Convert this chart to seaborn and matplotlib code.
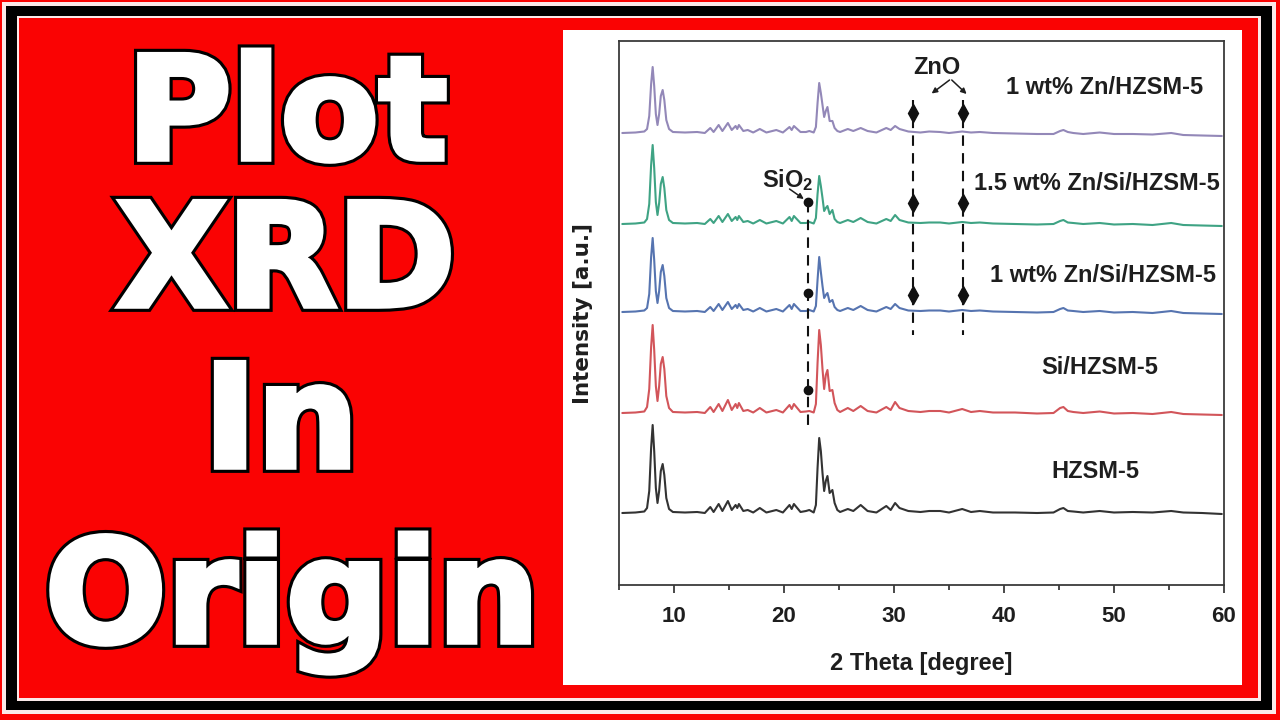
import numpy as np
import pandas as pd
import matplotlib
matplotlib.use("Agg")
import matplotlib.pyplot as plt
import matplotlib.patheffects as pe
from matplotlib.patches import Rectangle
import seaborn as sns

# ---------------- data ----------------
two_theta = [5.3, 6.5, 7.3, 7.55, 7.75, 7.92, 8.06, 8.2, 8.35, 8.5,
             8.65, 8.8, 8.97, 9.12, 9.3, 9.55, 9.9,
             11.0, 12.1, 12.8, 13.3, 13.6, 14.06, 14.4, 14.9, 15.25, 15.6,
             15.75, 15.9, 16.3, 16.7, 17.2, 17.8, 18.4, 19.3, 19.9, 20.5,
             20.7, 20.9, 21.5, 22.0, 22.3,
             22.7, 22.9, 23.05, 23.2, 23.35, 23.5, 23.65, 23.8, 23.95, 24.15,
             24.4, 24.6, 24.85, 25.1,
             25.8, 26.3, 26.97, 27.6, 28.4, 29.3, 29.7, 30.1, 30.5, 31.3,
             32.4, 33.2, 34.2, 35.0, 36.2, 37.0, 37.8, 39.0, 41.0, 43.0,
             44.5, 45.1, 45.4, 45.8, 46.3, 47.2, 48.7, 50.0, 51.7, 53.5,
             55.2, 56.3, 58.0, 59.8]

hzsm5 = [0, 0.5, 1.5, 5, 22, 65, 88, 62, 25, 10, 22, 42, 49, 38, 15, 4, 1,
         0.5, 1, 0, 6, 1, 9, 2, 12, 3, 8, 5, 9, 2, 3, 0.5, 5, 0.5, 3, 0.5, 8,
         4, 9, 1, 2, 3,
         0.5, 8, 45, 75, 62, 40, 22, 32, 37, 20, 23, 10, 3, 1,
         4, 2, 8, 2, 0.5, 7, 3, 10, 5, 2, 1, 2, 2, 0.5, 4, 1, 2, 0.5, 0.5, 0,
         0.5, 4, 5, 2, 1.5, 0.5, 2, 0.5, 1, 0.5, 2, 0.5, 0, -1]

si_hzsm5 = [0, 0.5, 1.5, 6, 24, 66, 88, 63, 27, 12, 27, 49, 56, 44, 17, 5, 1,
            0.5, 1, 0, 6, 1, 9, 2, 13, 3, 9, 5, 10, 2, 3, 0.5, 5, 0.5, 3, 0.5,
            8, 4, 9, 1, 1.5, 2,
            0.5, 9, 50, 83, 68, 44, 24, 38, 43, 22, 23, 10, 3, 1,
            5, 2, 7, 2, 0.5, 6, 3, 11, 5, 2, 1, 2, 2, 0.5, 4, 1, 2, 0.5, 0.5,
            -0.5, 0, 5, 6, 2, 1, 0, 1.5, -0.5, 0, -1, 1, -1, -1.5, -2]

zn1_si_hzsm5 = [0, 0.5, 1.5, 4, 18, 55, 74, 52, 21, 9, 21, 40, 47, 36, 14, 4, 1,
                0.5, 1, 0, 5, 1, 8, 2, 10, 3, 7, 4, 8, 2, 3, 0.5, 4, 0.5, 3,
                0.5, 7, 3, 8, 1, 1, 2,
                0.5, 6, 32, 55, 40, 26, 14, 17, 19, 10, 12, 5, 2, 1,
                4, 2, 6, 2, 0.5, 5, 3, 8, 4, 1.5, 1, 1.5, 1.5, 0.5, 2, 1, 1.5,
                0.5, 0, -0.5, 0, 3, 4, 1.5, 1, 0, 1, -0.5, 0, -1, 1, -1, -1.5,
                -2]

zn15_si_hzsm5 = [0, 0.5, 1.5, 5, 20, 59, 79, 56, 22, 9, 21, 40, 47, 36, 14, 4,
                 1,
                 0.5, 1, 0, 5, 1, 8, 2, 10, 3, 7, 4, 8, 2, 3, 0.5, 4, 0.5, 3,
                 0.5, 7, 3, 8, 1, 1, 2,
                 0.5, 6, 30, 48, 38, 26, 13, 16, 18, 10, 14, 5, 2, 1,
                 4, 2, 6, 2, 0.5, 5, 3, 9, 4, 1.5, 1, 1.5, 1.5, 0.5, 2, 1, 1.5,
                 0.5, 0, -0.5, 0, 3, 4, 1.5, 1, 0, 1, -0.5, 0, -1, 1, -1, -1.5,
                 -2]

zn1_hzsm5 = [0, 0.5, 1.5, 4, 17, 49, 66, 47, 19, 8, 19, 37, 43, 33, 13, 4, 1,
             0.5, 1, 0, 5, 1, 8, 2, 10, 3, 7, 4, 8, 2, 3, 0.5, 4, 0.5, 3, 0.5,
             6, 3, 7, 1, 1, 2,
             0.5, 6, 30, 50, 40, 28, 16, 22, 26, 12, 12, 5, 2, 1,
             4, 2, 5, 2, 0.5, 5, 3, 7, 4, 1.5, 0.5, 1.5, 1, 0, 1.5, 0.5, 1, 0,
             -0.5, -1, -1, 2, 3, 1, 0, -1, 0.5, -1, -1, -1.5, 0, -2, -2.5, -3]

series_names = ["HZSM-5", "Si/HZSM-5", "1 wt% Zn/Si/HZSM-5",
                "1.5 wt% Zn/Si/HZSM-5", "1 wt% Zn/HZSM-5"]
series_values = [hzsm5, si_hzsm5, zn1_si_hzsm5, zn15_si_hzsm5, zn1_hzsm5]

zno_peaks = [31.7, 36.3]          # ZnO reflections (degree)
sio2_peak = 22.2                  # SiO2 reflection (degree)

x_ticks = [10, 20, 30, 40, 50, 60]
title_words = ["Plot", "XRD", "In", "Origin"]

# ---------------- styling / layout ----------------
series_colors = ["#333333", "#d2555a", "#5674b0", "#3fa384", "#9388b8"]
offsets = [72, 172, 273, 361, 452]            # stacking offsets
label_pos = [(48.3, 113), (48.7, 217), (49.0, 310), (48.4, 402), (49.1, 497)]
zno_marker_y = [472, 382, 290]                 # purple, green, blue traces
sio2_marker_y = [383, 292, 195]                # green, blue, red traces

sns.set_theme(style="ticks")
plt.rcParams["font.family"] = ["Liberation Sans", "DejaVu Sans"]
plt.rcParams["font.weight"] = "bold"
plt.rcParams["mathtext.fontset"] = "custom"
plt.rcParams["mathtext.rm"] = "Liberation Sans:bold"
plt.rcParams["mathtext.default"] = "rm"

W, H = 1280, 720
RED = "#fa0303"
fig = plt.figure(figsize=(W / 100, H / 100), dpi=100)
fig.patch.set_facecolor(RED)


def prect(l, t, r, b, color, z):
    fig.add_artist(Rectangle((l / W, 1 - b / H), (r - l) / W, (b - t) / H,
                             transform=fig.transFigure, facecolor=color,
                             edgecolor="none", zorder=z))


prect(2, 2, 1276, 714, "#fbe9e9", -20)
prect(6, 6, 1272, 710, "black", -19)
prect(17, 16, 1261, 701, "#fbe9e9", -18)
prect(19, 18, 1258, 698, RED, -17)
prect(563, 30, 1242, 685, "white", -16)

# big title words (extra white stroke to mimic a heavier face)
word_pos = [(287, 159), (286, 306), (281, 467), (292, 642)]
title_fx = [pe.Stroke(linewidth=8.5, foreground="black", joinstyle="miter"),
            pe.Stroke(linewidth=4, foreground="white", joinstyle="miter"),
            pe.Normal()]
for word, (px, py) in zip(title_words, word_pos):
    fig.text(px / W, 1 - py / H, word, fontsize=103, fontweight="bold",
             family="DejaVu Sans", color="white", ha="center", va="baseline",
             path_effects=title_fx)

# ---------------- chart ----------------
ax = fig.add_axes([619 / W, (H - 585) / H, 605 / W, 544 / H])
ax.set_facecolor("white")

for name, vals, off, col in zip(series_names, series_values, offsets, series_colors):
    df = pd.DataFrame({"two_theta": two_theta,
                       "intensity": np.asarray(vals, dtype=float) + off})
    sns.lineplot(data=df, x="two_theta", y="intensity", ax=ax, color=col,
                 linewidth=1.5, estimator=None, sort=False, legend=False)

for name, (lx, ly) in zip(series_names, label_pos):
    ax.text(lx, ly, name, ha="center", va="center", fontsize=17,
            fontweight="bold", color="#1e1e1e")

# dashed reference lines and markers
dash_kw = dict(color="#111111", lw=1.5, dashes=(5, 3.5), zorder=3)
for xp in zno_peaks:
    ax.plot([xp, xp], [485, 250], **dash_kw)
    ax.plot([xp] * len(zno_marker_y), zno_marker_y, ls="none", marker="d",
            ms=9, color="#111111", zorder=4)
ax.plot([sio2_peak, sio2_peak], [383, 157], **dash_kw)
ax.plot([sio2_peak] * len(sio2_marker_y), sio2_marker_y, ls="none",
        marker="o", ms=6, color="#111111", zorder=4)

ax.text(33.9, 518, "ZnO", ha="center", va="center", fontsize=17,
        fontweight="bold", color="#1e1e1e")
ax.text(20.3, 405, "SiO$_2$", ha="center", va="center", fontsize=17,
        fontweight="bold", color="#1e1e1e")
arrow_kw = dict(arrowstyle="-|>", lw=1.1, color="#1e1e1e",
                mutation_scale=8, shrinkA=0, shrinkB=0)
ax.annotate("", xy=(33.42, 491.5), xytext=(35.05, 505), arrowprops=arrow_kw)
ax.annotate("", xy=(36.6, 491.0), xytext=(35.25, 505), arrowprops=arrow_kw)
ax.annotate("", xy=(21.8, 386), xytext=(20.5, 396), arrowprops=arrow_kw)

ax.set_xlim(5, 60)
ax.set_ylim(0, 544)
ax.set_xticks(x_ticks)
ax.set_xticks(np.arange(5, 60, 10), minor=True)
ax.set_yticks([])
ax.tick_params(axis="x", which="major", direction="out", length=6, width=1.3,
               pad=9, labelsize=16, colors="#3a3a3a", labelcolor="#1e1e1e",
               bottom=True)
ax.tick_params(axis="x", which="minor", direction="out", length=3.5,
               width=1.3, colors="#3a3a3a", bottom=True)
for s in ax.spines.values():
    s.set_visible(True)
    s.set_color("#3a3a3a")
    s.set_linewidth(1.3)

ax.set_xlabel("2 Theta [degree]", fontsize=17, fontweight="bold",
              color="#1e1e1e")
ax.xaxis.set_label_coords(0.5, -0.145)
ax.xaxis.label.set_va("center")
ax.set_ylabel("Intensity [a.u.]", fontsize=15.5, fontweight="bold",
              family="DejaVu Sans", color="#1e1e1e")
ax.yaxis.set_label_coords(-0.06, 0.5)
ax.yaxis.label.set_va("center")

fig.savefig("out.png", dpi=100, facecolor=fig.get_facecolor())
